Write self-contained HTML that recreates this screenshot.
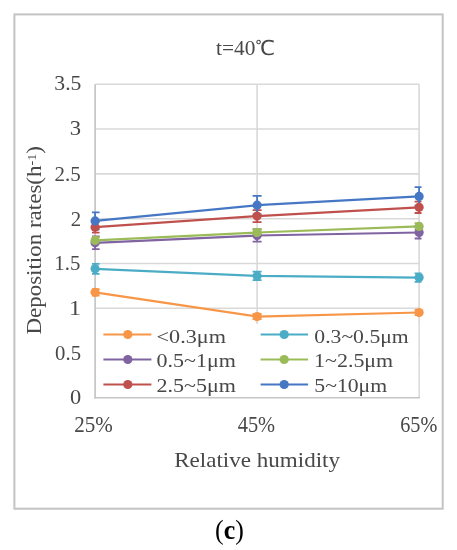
<!DOCTYPE html>
<html><head><meta charset="utf-8">
<style>
html,body{margin:0;padding:0;background:#fff;}
body{width:457px;height:550px;overflow:hidden;position:relative;}
svg{position:absolute;left:0;top:0;display:block;}
</style></head><body>
<svg width="457" height="550" viewBox="0 0 457 550">
<defs><clipPath id="ec"><rect x="92" y="0" width="329.5" height="550"/></clipPath></defs>
<rect x="14.4" y="14.4" width="428.3" height="494.3" fill="#fff" stroke="#C4C4C4" stroke-width="2"/>
<g stroke="#D9D9D9" stroke-width="1.6"><line x1="95.1" y1="353.2" x2="419.1" y2="353.2"/><line x1="95.1" y1="308.3" x2="419.1" y2="308.3"/><line x1="95.1" y1="263.5" x2="419.1" y2="263.5"/><line x1="95.1" y1="218.7" x2="419.1" y2="218.7"/><line x1="95.1" y1="173.9" x2="419.1" y2="173.9"/><line x1="95.1" y1="129" x2="419.1" y2="129"/><line x1="95.1" y1="84.2" x2="419.1" y2="84.2"/><line x1="257.1" y1="84.2" x2="257.1" y2="398.0"/><line x1="419.1" y1="84.2" x2="419.1" y2="398.0"/></g><g stroke="#C6C6C6" stroke-width="1.7"><line x1="95.1" y1="84.2" x2="95.1" y2="398.5"/><line x1="94.3" y1="397.7" x2="419.9" y2="397.7"/></g>
<polyline points="95.1,292.3 257.1,316.6 419.1,312.5" fill="none" stroke="#F79646" stroke-width="2.2" stroke-linejoin="round"/><polyline points="95.1,268.8 257.1,275.9 419.1,277.6" fill="none" stroke="#4BACC6" stroke-width="2.2" stroke-linejoin="round"/><polyline points="95.1,242.8 257.1,235.5 419.1,232.5" fill="none" stroke="#8064A2" stroke-width="2.2" stroke-linejoin="round"/><polyline points="95.1,240.4 257.1,232.5 419.1,226.4" fill="none" stroke="#9BBB59" stroke-width="2.2" stroke-linejoin="round"/><polyline points="95.1,227.2 257.1,216.1 419.1,207.3" fill="none" stroke="#C0504D" stroke-width="2.2" stroke-linejoin="round"/><polyline points="95.1,220.9 257.1,205.2 419.1,196.4" fill="none" stroke="#4677C4" stroke-width="2.2" stroke-linejoin="round"/><path d="M95.1 289.1V295.5M90.6 289.1H99.6M90.6 295.5H99.6M257.1 314V319.2M252.6 314H261.6M252.6 319.2H261.6M419.1 309.9V315.1M414.6 309.9H423.6M414.6 315.1H423.6" stroke="#F79646" stroke-width="1.8" fill="none" clip-path="url(#ec)"/><path d="M95.1 263.8V273.8M90.6 263.8H99.6M90.6 273.8H99.6M257.1 271.6V280.2M252.6 271.6H261.6M252.6 280.2H261.6M419.1 273.3V281.9M414.6 273.3H423.6M414.6 281.9H423.6" stroke="#4BACC6" stroke-width="1.8" fill="none" clip-path="url(#ec)"/><path d="M95.1 236.5V249.1M90.6 236.5H99.6M90.6 249.1H99.6M257.1 229.3V241.7M252.6 229.3H261.6M252.6 241.7H261.6M419.1 226.5V238.5M414.6 226.5H423.6M414.6 238.5H423.6" stroke="#8064A2" stroke-width="1.8" fill="none" clip-path="url(#ec)"/><path d="M95.1 237.1V243.7M90.6 237.1H99.6M90.6 243.7H99.6M257.1 229.2V235.8M252.6 229.2H261.6M252.6 235.8H261.6M419.1 223.1V229.7M414.6 223.1H423.6M414.6 229.7H423.6" stroke="#9BBB59" stroke-width="1.8" fill="none" clip-path="url(#ec)"/><path d="M95.1 221.7V232.7M90.6 221.7H99.6M90.6 232.7H99.6M257.1 210.1V222.1M252.6 210.1H261.6M252.6 222.1H261.6M419.1 201.6V213M414.6 201.6H423.6M414.6 213H423.6" stroke="#C0504D" stroke-width="1.8" fill="none" clip-path="url(#ec)"/><path d="M95.1 212.4V229.4M90.6 212.4H99.6M90.6 229.4H99.6M257.1 195.9V214.5M252.6 195.9H261.6M252.6 214.5H261.6M419.1 187.1V205.7M414.6 187.1H423.6M414.6 205.7H423.6" stroke="#4677C4" stroke-width="1.8" fill="none" clip-path="url(#ec)"/><circle cx="95.1" cy="292.3" r="4.6" fill="#F79646"/><circle cx="257.1" cy="316.6" r="4.6" fill="#F79646"/><circle cx="419.1" cy="312.5" r="4.6" fill="#F79646"/><circle cx="95.1" cy="268.8" r="4.6" fill="#4BACC6"/><circle cx="257.1" cy="275.9" r="4.6" fill="#4BACC6"/><circle cx="419.1" cy="277.6" r="4.6" fill="#4BACC6"/><circle cx="95.1" cy="242.8" r="4.6" fill="#8064A2"/><circle cx="257.1" cy="235.5" r="4.6" fill="#8064A2"/><circle cx="419.1" cy="232.5" r="4.6" fill="#8064A2"/><circle cx="95.1" cy="240.4" r="4.6" fill="#9BBB59"/><circle cx="257.1" cy="232.5" r="4.6" fill="#9BBB59"/><circle cx="419.1" cy="226.4" r="4.6" fill="#9BBB59"/><circle cx="95.1" cy="227.2" r="4.6" fill="#C0504D"/><circle cx="257.1" cy="216.1" r="4.6" fill="#C0504D"/><circle cx="419.1" cy="207.3" r="4.6" fill="#C0504D"/><circle cx="95.1" cy="220.9" r="4.6" fill="#4677C4"/><circle cx="257.1" cy="205.2" r="4.6" fill="#4677C4"/><circle cx="419.1" cy="196.4" r="4.6" fill="#4677C4"/>
<rect x="96" y="324" width="322.2" height="73" fill="#fff"/><line x1="103.4" y1="334.5" x2="151.4" y2="334.5" stroke="#F79646" stroke-width="2.2"/><circle cx="127.8" cy="334.5" r="4.6" fill="#F79646"/><line x1="260.6" y1="334.5" x2="308.1" y2="334.5" stroke="#4BACC6" stroke-width="2.2"/><circle cx="284.2" cy="334.5" r="4.6" fill="#4BACC6"/><line x1="103.4" y1="359.5" x2="151.4" y2="359.5" stroke="#8064A2" stroke-width="2.2"/><circle cx="127.8" cy="359.5" r="4.6" fill="#8064A2"/><line x1="260.6" y1="359.5" x2="308.1" y2="359.5" stroke="#9BBB59" stroke-width="2.2"/><circle cx="284.2" cy="359.5" r="4.6" fill="#9BBB59"/><line x1="103.4" y1="384.5" x2="151.4" y2="384.5" stroke="#C0504D" stroke-width="2.2"/><circle cx="127.8" cy="384.5" r="4.6" fill="#C0504D"/><line x1="260.6" y1="384.5" x2="308.1" y2="384.5" stroke="#4677C4" stroke-width="2.2"/><circle cx="284.2" cy="384.5" r="4.6" fill="#4677C4"/>
<text x="216.1" y="54.6" font-family="'Liberation Serif','WenQuanYi Zen Hei',sans-serif" font-size="20.44" fill="#484848" textLength="58.9" lengthAdjust="spacingAndGlyphs">t=40℃</text>
<text x="54.3" y="90.4" font-family="'Liberation Serif','Noto Serif CJK SC',serif" font-size="21.00" fill="#484848" textLength="27.1" lengthAdjust="spacingAndGlyphs">3.5</text>
<text x="69.8" y="135.1" font-family="'Liberation Serif','Noto Serif CJK SC',serif" font-size="21.00" fill="#484848" textLength="11.3" lengthAdjust="spacingAndGlyphs">3</text>
<text x="54.5" y="181.2" font-family="'Liberation Serif','Noto Serif CJK SC',serif" font-size="21.00" fill="#484848" textLength="26.2" lengthAdjust="spacingAndGlyphs">2.5</text>
<text x="70.7" y="225.6" font-family="'Liberation Serif','Noto Serif CJK SC',serif" font-size="21.00" fill="#484848" textLength="10.4" lengthAdjust="spacingAndGlyphs">2</text>
<text x="54.3" y="269.8" font-family="'Liberation Serif','Noto Serif CJK SC',serif" font-size="21.00" fill="#484848" textLength="26" lengthAdjust="spacingAndGlyphs">1.5</text>
<text x="69" y="315.1" font-family="'Liberation Serif','Noto Serif CJK SC',serif" font-size="21.00" fill="#484848" textLength="12" lengthAdjust="spacingAndGlyphs">1</text>
<text x="55.1" y="359.5" font-family="'Liberation Serif','Noto Serif CJK SC',serif" font-size="21.00" fill="#484848" textLength="25.9" lengthAdjust="spacingAndGlyphs">0.5</text>
<text x="69.9" y="404.1" font-family="'Liberation Serif','Noto Serif CJK SC',serif" font-size="21.00" fill="#484848" textLength="11.2" lengthAdjust="spacingAndGlyphs">0</text>
<text x="74.3" y="432" font-family="'Liberation Serif','Noto Serif CJK SC',serif" font-size="22.95" fill="#484848" textLength="38.5" lengthAdjust="spacingAndGlyphs">25%</text>
<text x="237.7" y="432" font-family="'Liberation Serif','Noto Serif CJK SC',serif" font-size="22.95" fill="#484848" textLength="37.4" lengthAdjust="spacingAndGlyphs">45%</text>
<text x="400.2" y="432" font-family="'Liberation Serif','Noto Serif CJK SC',serif" font-size="22.95" fill="#484848" textLength="37.1" lengthAdjust="spacingAndGlyphs">65%</text>
<text x="174.2" y="467.1" font-family="'Liberation Serif','Noto Serif CJK SC',serif" font-size="20.99" fill="#484848" textLength="165.8" lengthAdjust="spacingAndGlyphs">Relative humidity</text>
<text transform="translate(41,334.6) rotate(-90)" font-family="'Liberation Serif','Noto Serif CJK SC',serif" font-size="21.78" fill="#484848" textLength="188.6" lengthAdjust="spacingAndGlyphs">Deposition rates(h<tspan dy="-0.36em" font-size="0.62em">-1</tspan><tspan dy="0.225em">)</tspan></text>
<text x="215" y="538.6" font-family="'Liberation Serif','Noto Serif CJK SC',serif" font-size="27.94" fill="#000" textLength="28.8" lengthAdjust="spacingAndGlyphs">(<tspan font-weight="bold">c</tspan>)</text>
<text x="156.6" y="342.7" font-family="'Liberation Serif','Noto Serif CJK SC',serif" font-size="17.80" fill="#484848" textLength="69.3" lengthAdjust="spacingAndGlyphs">&lt;0.3μm</text>
<text x="156.6" y="367.3" font-family="'Liberation Serif','Noto Serif CJK SC',serif" font-size="17.80" fill="#484848" textLength="79.4" lengthAdjust="spacingAndGlyphs">0.5~1μm</text>
<text x="156.6" y="391.5" font-family="'Liberation Serif','Noto Serif CJK SC',serif" font-size="17.80" fill="#484848" textLength="79.4" lengthAdjust="spacingAndGlyphs">2.5~5μm</text>
<text x="314.3" y="342.6" font-family="'Liberation Serif','Noto Serif CJK SC',serif" font-size="17.80" fill="#484848" textLength="94.4" lengthAdjust="spacingAndGlyphs">0.3~0.5μm</text>
<text x="314.1" y="366.7" font-family="'Liberation Serif','Noto Serif CJK SC',serif" font-size="17.80" fill="#484848" textLength="79.1" lengthAdjust="spacingAndGlyphs">1~2.5μm</text>
<text x="314.3" y="391.9" font-family="'Liberation Serif','Noto Serif CJK SC',serif" font-size="17.80" fill="#484848" textLength="72.8" lengthAdjust="spacingAndGlyphs">5~10μm</text>
</svg>
</body></html>
